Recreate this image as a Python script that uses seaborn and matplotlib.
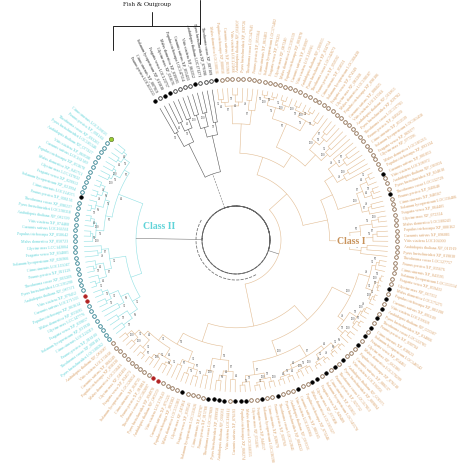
import numpy as np
import matplotlib.pyplot as plt
import seaborn as sns

sns.set_theme(style="white")
plt.rcParams['font.family'] = ['Liberation Serif', 'DejaVu Serif']

# ---- data ----
class_names = ["Outgroup", "Class I", "Class II"]
class_colors = ["#222222", "#D9A066", "#5FD3D8"]
line_colors = ["#555555", "#E2BC92", "#8FE0E3"]
dot_colors = ["#333333", "#8C6B4E", "#2E7F8E"]
leaf_counts = [12, 125, 40]
# angular span of each class, degrees clockwise from top
class_spans = [(330, 351), (353, 590), (232, 309)]
class_radius = [70, 45, 100]
filled_black = {
    0: [0, 2, 3, 8],
    1: [0, 38, 42, 60, 62, 64, 66, 68, 70, 72, 76, 78, 80, 82, 83, 86, 90, 93,
        96, 97, 98, 100, 101, 102, 103, 108],
    2: [27],
}
filled_red = {1: [113, 114], 2: [8, 9]}
green_dot = {2: [39]}
species = ["Prunus persica", "Malus domestica", "Pyrus bretschneideri",
           "Fragaria vesca", "Vitis vinifera", "Citrus sinensis",
           "Populus trichocarpa", "Theobroma cacao", "Glycine max",
           "Arabidopsis thaliana", "Solanum lycopersicum", "Cucumis sativus"]
boot = [100, 99, 87, 64, 52, 96, 78, 100, 45, 91, 70, 58]

cx, cy = 236, 240
R_leaf, R_dot, R_text = 152, 161, 168
ratios = [0.5, 0.38, 0.62, 0.44, 0.55, 0.3, 0.67, 0.47]
steps = [0.28, 0.4, 0.22, 0.35, 0.5, 0.3, 0.45, 0.25]

fig = plt.figure(figsize=(4.74, 4.74), dpi=100)
ax = fig.add_axes([0, 0, 1, 1])
ax.set_xlim(0, 474)
ax.set_ylim(474, 0)
ax.axis("off")


def xy(r, a):
    t = np.radians(a)
    return cx + r * np.sin(t), cy - r * np.cos(t)


def arc(r, a0, a1, color, ls="-", lw=0.4):
    a = np.linspace(a0, a1, max(2, int(abs(a1 - a0)) + 2))
    x, y = xy(r, a)
    ax.plot(x, y, color=color, lw=lw, ls=ls)


def radial(r0, r1, a, color, ls="-", lw=0.4):
    x, y = xy(np.array([r0, r1]), a)
    ax.plot(x, y, color=color, lw=lw, ls=ls)


state = {"k": 0}


def draw(angles, r_node, color):
    k = state["k"]
    state["k"] += 1
    n = len(angles)
    split = int(max(1, min(n - 1, round(n * ratios[k % len(ratios)]))))
    mids = []
    for part in (angles[:split], angles[split:]):
        if len(part) == 1:
            radial(r_node, R_leaf, part[0], color)
            mids.append(part[0])
        else:
            r_child = r_node + (R_leaf - r_node) * steps[(k + len(part)) % len(steps)]
            m = draw(part, r_child, color)
            radial(r_node, r_child, m, color)
            mids.append(m)
            if R_leaf - r_child < 35:
                bx, by = xy(r_child - 4, m - 1.5)
                ax.text(bx, by, str(boot[k % len(boot)]), fontsize=2.2,
                        color="#555555", ha="center", va="center")
    arc(r_node, mids[0], mids[1], color)
    return (mids[0] + mids[1]) / 2


root_r = 34
class_mids = []
for ci in range(3):
    a0, a1 = class_spans[ci]
    angles = np.linspace(a0, a1, leaf_counts[ci])
    m = draw(list(angles), class_radius[ci], line_colors[ci])
    radial(root_r, class_radius[ci], m, "#777777", ls="--" if ci == 0 else "-")
    class_mids.append(m)
    for i, a in enumerate(angles):
        x, y = xy(R_dot, a)
        if i in filled_black.get(ci, []):
            ax.plot(x, y, "o", ms=2.6, mfc="black", mec="black", mew=0.4)
        elif i in filled_red.get(ci, []):
            ax.plot(x, y, "o", ms=2.6, mfc="#B22222", mec="#B22222", mew=0.4)
        elif i in green_dot.get(ci, []):
            ax.plot(x, y, "o", ms=3.2, mfc="#9ACD32", mec="#556B2F", mew=0.4)
        else:
            ax.plot(x, y, "o", ms=2.6, mfc="white", mec=dot_colors[ci], mew=0.6)
        tx, ty = xy(R_text, a)
        rot = 90 - a
        ha = "left"
        if 180 < (a % 360) < 360:
            rot += 180
            ha = "right"
        sp = species[(i * 5 + ci) % len(species)]
        label = f"{sp} {'XP_0' if i % 3 else 'LOC1'}{(i * 7919 + ci * 131) % 100000:05d}"
        ax.text(tx, ty, label, fontsize=2.9, color=class_colors[ci],
                rotation=rot, rotation_mode="anchor", ha=ha, va="center")

# root circle
arc(root_r, class_mids[2] - 360, class_mids[1], "#666666", ls="--", lw=0.6)
arc(root_r, class_mids[0] - 360, class_mids[1], "#666666", lw=0.6)
arc(root_r + 6, 150, 300, "#777777", ls="--", lw=0.6)

ax.text(337, 244, "Class I", fontsize=7, color="#C8925A", weight="bold",
        bbox=dict(facecolor="white", edgecolor="none", pad=0.5))
ax.text(143, 229, "Class II", fontsize=7, color="#5FD3D8", weight="bold",
        bbox=dict(facecolor="white", edgecolor="none", pad=0.5))

# outgroup bracket
ax.plot([113, 113, 200, 200], [50, 26, 26, 44], color="#222222", lw=0.7)
ax.plot([152, 152], [26, 12], color="#222222", lw=0.7)
ax.plot([200, 200], [0, 40], color="#222222", lw=0.7)
ax.text(123, 6, "Fish & Outgroup", fontsize=5, color="#222222")

fig.savefig("out.png", dpi=100)
